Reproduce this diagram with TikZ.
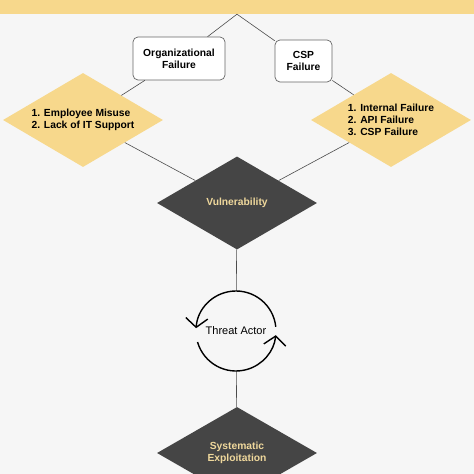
\documentclass[tikz,border=0pt]{standalone}
\usepackage{fontspec}
\setmainfont{Liberation Sans}
\usetikzlibrary{shapes.geometric,arrows.meta}
\definecolor{paleback}{HTML}{F6F6F6}
\definecolor{riskyellow}{HTML}{F7D88C}
\definecolor{riskdark}{HTML}{454545}
\definecolor{riskgold}{HTML}{EFD89C}

\begin{document}
\begin{tikzpicture}[x=1pt,y=1pt,font=\bfseries\fontsize{10.3}{12}\selectfont,
    failbox/.style={draw=black!60,fill=white,rounded corners=5pt,align=center,line width=0.7pt,inner sep=0pt},
    causes/.style={diamond,aspect=1.7,fill=riskyellow,minimum width=160pt,minimum height=94pt,inner sep=0pt,align=left},
    stage/.style={diamond,aspect=1.7,fill=riskdark,text=riskgold,minimum width=160pt,minimum height=93pt,inner sep=0pt,align=center},
    link/.style={draw=black!70,line width=0.6pt},
    loopline/.style={line width=1.4pt,-{Straight Barb[length=9pt,width=22pt]}}]
  % canvas
  \fill[paleback] (0,0) rectangle (474,474);
  \useasboundingbox (0,0) rectangle (474,474);

  % top band
  \node[fill=riskyellow,minimum width=474pt,minimum height=14pt,inner sep=0pt] (risk) at (237,467) {};

  % failure kinds
  \node[failbox,minimum width=92pt,minimum height=43pt] (org) at (179,415.5) {Organizational\\Failure};
  \node[failbox,minimum width=57pt,minimum height=42pt] (csp) at (303.5,413) {CSP\\Failure};

  % causes
  \node[causes] (orgcause) at (83,354) {1. Employee Misuse\\2. Lack of IT Support};
  \node[causes] (cspcause) at (391,354) {1. Internal Failure\\2. API Failure\\3. CSP Failure};

  % stages
  \node[stage] (vuln) at (237,271) {Vulnerability};
  \node[circle,minimum size=80pt,inner sep=0pt,font=\fontsize{11}{13}\selectfont] (actor) at (236,143) {Threat Actor};
  \node[stage,minimum height=92pt] (exploit) at (237,21) {Systematic\\Exploitation};

  % connectors
  \draw[link] (risk.south) -- (org);
  \draw[link] (risk.south) -- (csp);
  \draw[link] (org) -- (orgcause);
  \draw[link] (csp) -- (cspcause);
  \draw[link] (orgcause) -- (vuln);
  \draw[link] (cspcause) -- (vuln);
  \draw[link] (vuln) -- (actor);
  \draw[link] (actor) -- (exploit);

  % cycle round the actor
  \draw[loopline] (actor.center) ++(6:40pt) arc[start angle=6,end angle=176,radius=40pt];
  \draw[loopline] (actor.center) ++(196:40pt) arc[start angle=196,end angle=354,radius=40pt];
\end{tikzpicture}
\end{document}
